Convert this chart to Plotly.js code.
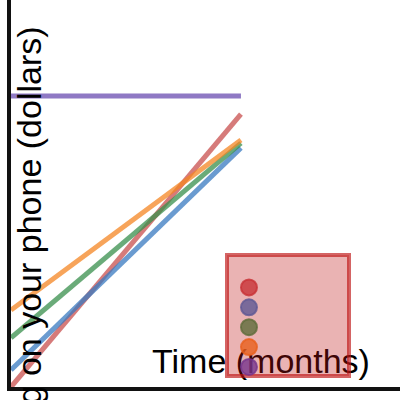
<!DOCTYPE html>
<html>
<head>
<meta charset="utf-8">
<script src="https://cdn.plot.ly/plotly-3.0.1.min.js"></script>
<style>html,body{margin:0;padding:0;background:#fff}#chart{width:400px;height:400px}</style>
</head>
<body>
<div id="chart"></div>
<script>
// months
var months = [0, 12];
// cumulative spending (dollars) per plan
var planRed = [0, 70.5];
var planBlue = [4.4, 61.8];
var planGreen = [12.7, 63.0];
var planOrange = [19.9, 63.8];
var planPurple = [75.2, 75.2];

var lineColors = ['rgba(200,79,78,0.75)', 'rgba(56,122,192,0.75)', 'rgba(56,143,76,0.75)', 'rgba(244,134,35,0.75)', 'rgba(106,76,176,0.75)'];
var dotColors = ['rgba(200,50,54,0.8)', 'rgba(94,88,148,0.8)', 'rgba(94,108,58,0.8)', 'rgba(232,95,28,0.8)', 'rgba(119,53,140,0.8)'];
var series = [planRed, planBlue, planGreen, planOrange, planPurple];
var legendNames = ['\u00a0'.repeat(20), '\u00a0'.repeat(20), '\u00a0'.repeat(20), '\u00a0'.repeat(20), '\u00a0'.repeat(20)];

var traces = [];
series.forEach(function (ys, i) {
  traces.push({
    x: months, y: ys, mode: 'lines', showlegend: false, hoverinfo: 'skip',
    line: {color: lineColors[i], width: 5}
  });
});
series.forEach(function (ys, i) {
  traces.push({
    x: [null], y: [null], mode: 'markers', name: legendNames[i], showlegend: true,
    marker: {color: dotColors[i], size: 16, line: {color: dotColors[i], width: 2}}
  });
});

var layout = {
  width: 400, height: 400,
  margin: {l: 11, r: 0, t: 0, b: 13, pad: 0},
  paper_bgcolor: '#ffffff', plot_bgcolor: '#ffffff',
  font: {family: 'Liberation Sans, Arial, sans-serif', color: '#000'},
  showlegend: true,
  xaxis: {range: [0, 20.3], showgrid: false, zeroline: false, showticklabels: false, ticks: '',
          showline: true, linecolor: '#111111', linewidth: 4, fixedrange: true},
  yaxis: {range: [0, 100], showgrid: false, zeroline: false, showticklabels: false, ticks: '',
          showline: true, linecolor: '#111111', linewidth: 4, fixedrange: true},
  legend: {x: 0.5501, y: 0.3450, xanchor: 'left', yanchor: 'top',
           bgcolor: 'rgba(190,20,20,0.32)', bordercolor: 'rgba(190,20,20,0.66)', borderwidth: 4,
           font: {size: 13}, title: {text: '\u00a0', font: {size: 11.5}}},
  annotations: [
    {text: 'Time (months)', xref: 'paper', yref: 'paper', x: 0.6427, y: 0.0672,
     xanchor: 'center', yanchor: 'middle', showarrow: false, font: {size: 34, color: '#000'}},
    {text: 'Total spending on your phone (dollars)', xref: 'paper', yref: 'paper', x: 0.0463, y: 0.936,
     xanchor: 'center', yanchor: 'top', textangle: -90, showarrow: false, font: {size: 34, color: '#000'}}
  ]
};

Plotly.newPlot('chart', traces, layout, {staticPlot: true, displayModeBar: false}).then(function (gd) {
  // legend sits above the axis-title text, as in the reference
  var leg = gd.querySelector('.infolayer .legend');
  if (leg && leg.parentNode) {
    leg.parentNode.appendChild(leg);
    // tighter bottom padding of the legend box, as in the reference
    var bg = leg.querySelector('rect.bg');
    if (bg) {
      var h = parseFloat(bg.getAttribute('height'));
      if (isFinite(h) && h > 20) { bg.setAttribute('height', h - 8); }
    }
  }
});
</script>
</body>
</html>
